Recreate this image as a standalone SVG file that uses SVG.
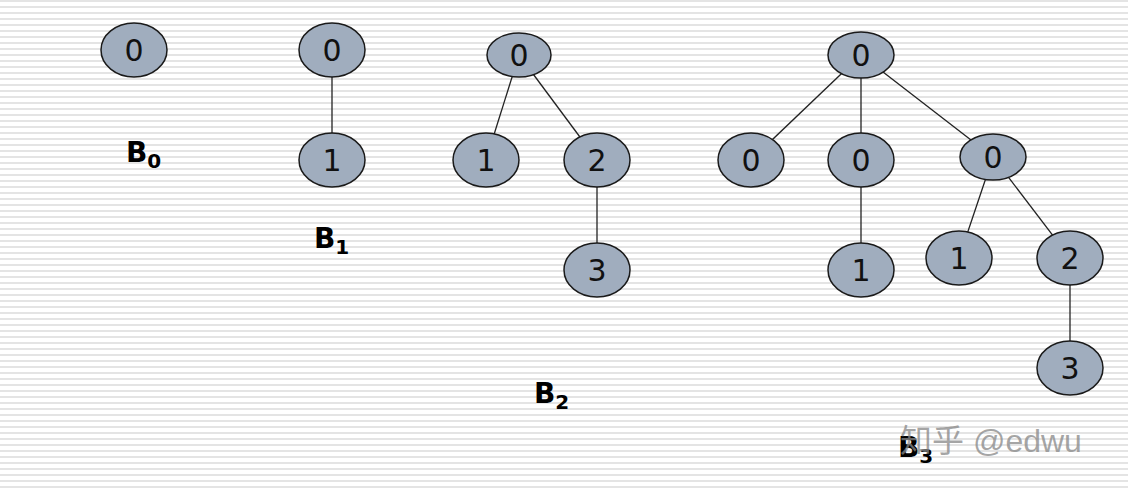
<svg xmlns="http://www.w3.org/2000/svg" width="1128" height="489" viewBox="0 0 1128 489">
<defs>
<pattern id="stripes" width="6" height="6" patternUnits="userSpaceOnUse">
<rect width="6" height="6" fill="#ffffff"/>
<rect y="0" width="6" height="2" fill="#e4e4e4"/>
</pattern>
</defs>
<style>
.n ellipse{fill:#a0adbe;stroke:#1a1a1a;stroke-width:1.5}
.n text{font-family:"DejaVu Sans",Verdana,sans-serif;font-size:30px;fill:#111;text-anchor:middle;dominant-baseline:central}
.e line{stroke:#222;stroke-width:1.3}
.lbl{font-family:"DejaVu Sans",Verdana,sans-serif;font-weight:bold;font-size:28px;fill:#000}
.lbl tspan.s{font-size:20px}
.wm{font-family:"Liberation Sans","Noto Sans CJK SC",sans-serif;font-size:32px;fill:#888;fill-opacity:0.75}
</style>
<rect width="1128" height="489" fill="url(#stripes)"/>
<g class="e" id="connectors">
<line x1="332" y1="50" x2="332" y2="160"/>
<line x1="519" y1="55" x2="486" y2="160"/>
<line x1="519" y1="55" x2="597" y2="160"/>
<line x1="597" y1="160" x2="597" y2="270"/>
<line x1="861" y1="55" x2="751" y2="160"/>
<line x1="861" y1="55" x2="861" y2="160"/>
<line x1="861" y1="55" x2="993" y2="157"/>
<line x1="861" y1="160" x2="861" y2="270"/>
<line x1="993" y1="157" x2="959" y2="258"/>
<line x1="993" y1="157" x2="1070" y2="258"/>
<line x1="1070" y1="258" x2="1070" y2="368"/>
</g>
<g class="n" id="b0n0"><ellipse cx="134" cy="50" rx="33" ry="27"/><text x="134" y="50">0</text></g>
<g class="n" id="b1n0"><ellipse cx="332" cy="50" rx="33" ry="27"/><text x="332" y="50">0</text></g>
<g class="n" id="b1n1"><ellipse cx="332" cy="160" rx="33" ry="27"/><text x="332" y="160">1</text></g>
<g class="n" id="b2n0"><ellipse cx="519" cy="55" rx="32" ry="22"/><text x="519" y="55">0</text></g>
<g class="n" id="b2n1"><ellipse cx="486" cy="160" rx="33" ry="27"/><text x="486" y="160">1</text></g>
<g class="n" id="b2n2"><ellipse cx="597" cy="160" rx="33" ry="27"/><text x="597" y="160">2</text></g>
<g class="n" id="b2n3"><ellipse cx="597" cy="270" rx="33" ry="27"/><text x="597" y="270">3</text></g>
<g class="n" id="b3n0"><ellipse cx="861" cy="55" rx="33" ry="23"/><text x="861" y="55">0</text></g>
<g class="n" id="b3n0a"><ellipse cx="751" cy="160" rx="33" ry="27"/><text x="751" y="160">0</text></g>
<g class="n" id="b3n0b"><ellipse cx="861" cy="160" rx="33" ry="27"/><text x="861" y="160">0</text></g>
<g class="n" id="b3n0c"><ellipse cx="993" cy="157" rx="33" ry="23"/><text x="993" y="157">0</text></g>
<g class="n" id="b3n1a"><ellipse cx="861" cy="270" rx="33" ry="27"/><text x="861" y="270">1</text></g>
<g class="n" id="b3n1b"><ellipse cx="959" cy="258" rx="33" ry="27"/><text x="959" y="258">1</text></g>
<g class="n" id="b3n2"><ellipse cx="1070" cy="258" rx="33" ry="27"/><text x="1070" y="258">2</text></g>
<g class="n" id="b3n3"><ellipse cx="1070" cy="368" rx="33" ry="27"/><text x="1070" y="368">3</text></g>
<text class="lbl" x="126" y="162">B<tspan class="s" dy="6">0</tspan></text>
<text class="lbl" x="314" y="248">B<tspan class="s" dy="6">1</tspan></text>
<text class="lbl" x="534" y="403">B<tspan class="s" dy="6">2</tspan></text>
<text class="lbl" x="898" y="457">B<tspan class="s" dy="6">3</tspan></text>
<text class="wm" x="900" y="452">知乎 @edwu</text>
</svg>
